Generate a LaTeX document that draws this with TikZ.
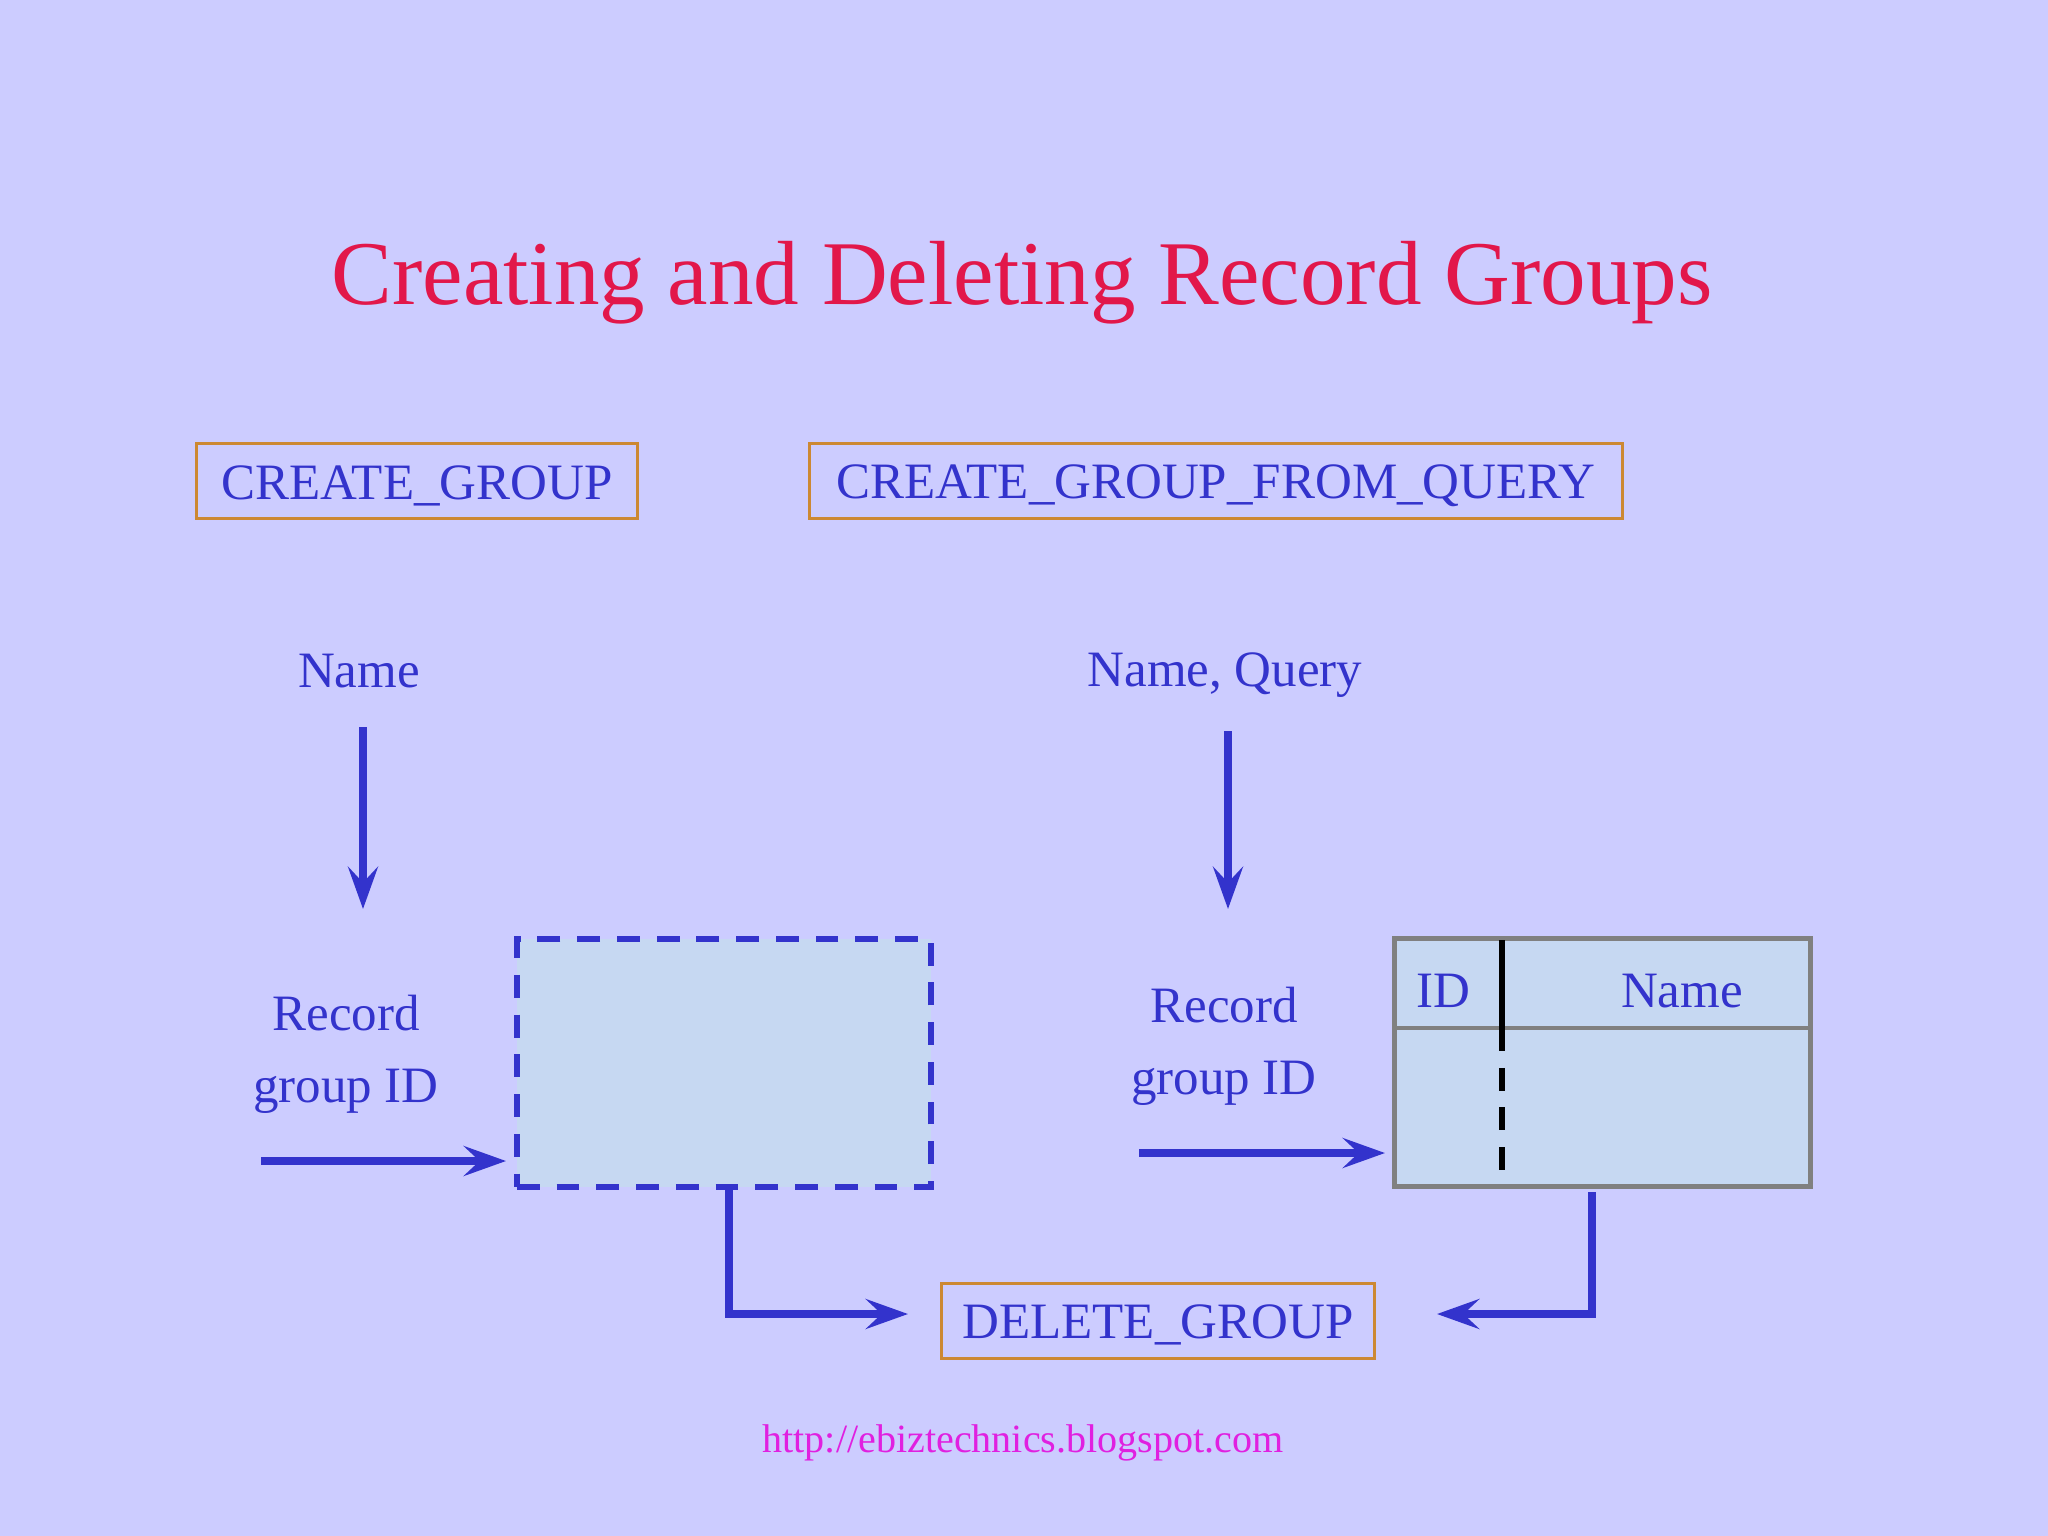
\documentclass[tikz,border=0pt]{standalone}
\usepackage{fontspec}
\setmainfont{Liberation Serif}
\usetikzlibrary{arrows.meta}
\definecolor{bgc}{HTML}{CCCCFF}
\definecolor{fillc}{HTML}{C6D8F2}
\definecolor{txtc}{HTML}{3333CC}
\definecolor{boxc}{HTML}{CC8833}
\definecolor{titlec}{HTML}{E2174A}
\definecolor{urlc}{HTML}{E020E0}
\definecolor{gridc}{HTML}{808080}
\begin{document}
\begin{tikzpicture}[x=0.01cm,y=-0.01cm,
  lbl/.style={text=txtc,font=\fontsize{14.5}{20.5}\selectfont,align=center,inner sep=0pt},
  fnbox/.style={draw=boxc,line width=0.9pt,text=txtc,font=\fontsize{14.5}{17}\selectfont,inner sep=0pt,minimum height=0.75cm},
  conn/.style={draw=txtc,line width=2.3pt,-{Stealth[length=12pt,width=8.5pt,inset=4.5pt]}},
]
\fill[bgc] (0,0) rectangle (2048,1536);
\useasboundingbox (0,0) rectangle (2048,1536);

\node[text=titlec,font=\fontsize{25.9}{30}\selectfont,inner sep=0pt,anchor=base] (title) at (1022,304) {Creating and Deleting Record Groups};

\node[fnbox,minimum width=4.40cm] (cg) at (417,481) {};
\node[text=txtc,font=\fontsize{14.5}{17}\selectfont,inner sep=0pt] (cgt) at (417,486) {CREATE\_GROUP};
\node[fnbox,minimum width=8.12cm] (cgq) at (1216,481) {};
\node[text=txtc,font=\fontsize{14.5}{17}\selectfont,inner sep=0pt] (cgqt) at (1216,486) {CREATE\_GROUP\_FROM\_QUERY};
\node[fnbox,minimum width=4.33cm] (dg) at (1158,1321) {};
\node[text=txtc,font=\fontsize{14.5}{17}\selectfont,inner sep=0pt] (dgt) at (1158,1325) {DELETE\_GROUP};

\node[lbl] (n1) at (359,671) {Name};
\node[lbl] (n2) at (1225,675) {Name, Query};

\node[lbl] (r1) at (346,1054) {Record\\group ID};
\node[lbl] (r2) at (1224,1046) {Record\\group ID};

% dashed record group
\node[draw=txtc,fill=fillc,line width=1.7pt,dash pattern=on 6.5pt off 4.8pt,minimum width=4.14cm,minimum height=2.48cm,inner sep=0pt] (dbox) at (724,1063) {};

% table
\node[draw=gridc,fill=fillc,line width=1.4pt,minimum width=4.15cm,minimum height=2.47cm,inner sep=0pt] (tbl) at (1602.5,1062.5) {};
\draw[gridc,line width=1.4pt] (tbl.west |- 0,1028) coordinate (hl) -- (tbl.east |- 0,1028) coordinate (hr);
\coordinate (dtop) at (1502,940);
\coordinate (dmid) at (1502,1028);
\coordinate (dbot) at (1502,1182);
\draw[black,line width=1.7pt] (dtop) -- (dmid);
\draw[black,line width=1.7pt,dash pattern=on 6.5pt off 4.8pt] (dmid) -- (dbot);
\node[lbl] (hid) at (1443,991) {ID};
\node[lbl] (hname) at (1682,991) {Name};

% arrows
\coordinate (a1s) at (363,727);
\coordinate (a1e) at (363,909);
\draw[conn] (a1s) -- (a1e);
\coordinate (a2s) at (1228,731);
\coordinate (a2e) at (1228,909);
\draw[conn] (a2s) -- (a2e);

\coordinate (h1s) at (261,1161);
\coordinate (h1e) at (506,1161);
\draw[conn] (h1s) -- (h1e);
\coordinate (h2s) at (1139,1153);
\coordinate (h2e) at (1385,1153);
\draw[conn] (h2s) -- (h2e);

\coordinate (c1s) at (729,1187);
\coordinate (c1e) at (908,1314);
\draw[conn] (c1s) |- (c1e);
\coordinate (c2s) at (1592,1192);
\coordinate (c2e) at (1437,1314);
\draw[conn] (c2s) |- (c2e);

\node[text=urlc,font=\fontsize{11.4}{13}\selectfont,inner sep=0pt] (url) at (1023,1443) {http://ebiztechnics.blogspot.com};
\end{tikzpicture}
\end{document}
